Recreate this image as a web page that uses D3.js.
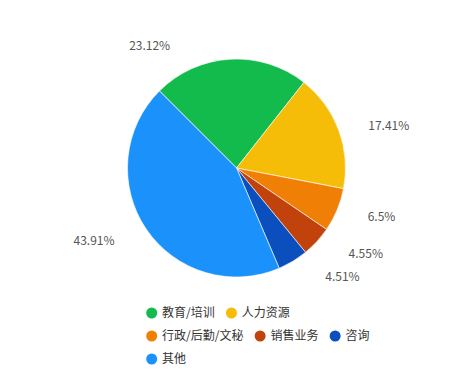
<!DOCTYPE html>
<html>
<head>
<meta charset="utf-8">
<script src="https://cdn.jsdelivr.net/npm/d3@7"></script>
<style>
  body { margin: 0; background: #fff; }
  text { font-family: "Microsoft YaHei", "Noto Sans CJK SC", sans-serif; }
</style>
</head>
<body>
<script>
// data
var categories = ['教育/培训', '人力资源', '行政/后勤/文秘', '销售业务', '咨询', '其他'];
var shares = [23.12, 17.41, 6.5, 4.55, 4.51, 43.91];
var labels = ['23.12%', '17.41%', '6.5%', '4.55%', '4.51%', '43.91%'];
var colors = ['#12bb4c', '#f5bd07', '#f07f06', '#c2420b', '#0b4fbe', '#1b91fb'];

// label placement tweaks (degrees, px) so the texts sit where the original put them
var labelTurn = [-32, 5, -4, -9, -13, 7];
var labelDist = [150, 158, 153, 155, 152, 160];

var width = 470, height = 389;
var cx = 236.5, cy = 168, radius = 109;

var svg = d3.select('body').append('svg')
  .attr('width', width)
  .attr('height', height);

var pie = d3.pie()
  .sort(null)
  .startAngle(-Math.PI / 4)
  .endAngle(-Math.PI / 4 + 2 * Math.PI);

var arcs = pie(shares);
var arc = d3.arc().innerRadius(0).outerRadius(radius);

var g = svg.append('g').attr('transform', 'translate(' + cx + ',' + cy + ')');

g.selectAll('path')
  .data(arcs)
  .enter()
  .append('path')
  .attr('d', arc)
  .attr('fill', (d, i) => colors[i])
  .attr('stroke', '#fff')
  .attr('stroke-width', 0.6);

g.selectAll('text.lbl')
  .data(arcs)
  .enter()
  .append('text')
  .attr('class', 'lbl')
  .attr('x', (d, i) => {
    let a = (d.startAngle + d.endAngle) / 2 + labelTurn[i] * Math.PI / 180;
    return Math.sin(a) * labelDist[i];
  })
  .attr('y', (d, i) => {
    let a = (d.startAngle + d.endAngle) / 2 + labelTurn[i] * Math.PI / 180;
    return -Math.cos(a) * labelDist[i];
  })
  .attr('text-anchor', 'middle')
  .attr('dy', '0.35em')
  .attr('font-size', 12)
  .attr('fill', '#555')
  .text((d, i) => labels[i]);

// legend, wrapped into rows
var legendX = 146, legendY = 313, rowH = 23, maxW = 232;
var legend = svg.append('g');
var x = legendX, y = legendY;
categories.forEach((name, i) => {
  let item = legend.append('g');
  item.append('circle')
    .attr('cx', 5.7).attr('cy', 0).attr('r', 5.5)
    .attr('fill', colors[i]);
  let t = item.append('text')
    .attr('x', 16).attr('dy', '0.35em')
    .attr('font-size', 12)
    .attr('fill', '#333')
    .text(name);
  let w = 16 + t.node().getComputedTextLength();
  if (x > legendX && x + w - legendX > maxW) {
    x = legendX;
    y += rowH;
  }
  item.attr('transform', 'translate(' + x + ',' + y + ')');
  x += w + 11;
});
</script>
</body>
</html>
